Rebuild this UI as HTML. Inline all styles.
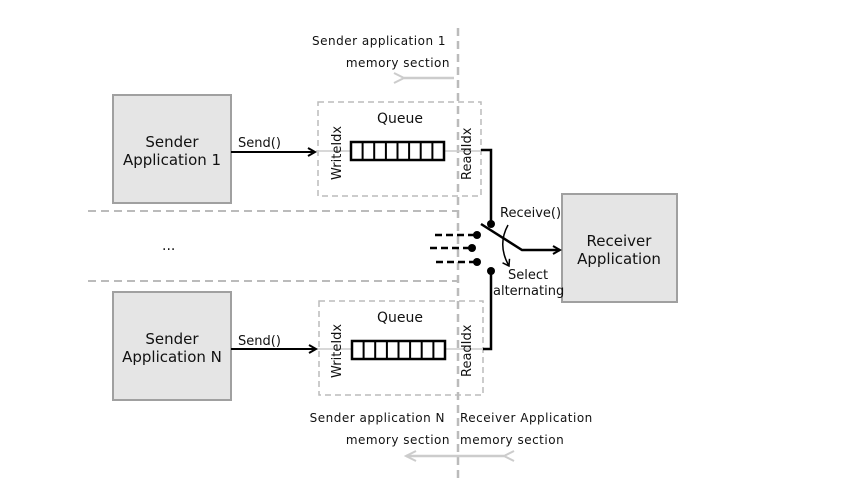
<!DOCTYPE html>
<html><head><style>
html,body{margin:0;padding:0;background:#fff;}
svg{display:block;}
text{font-family:"DejaVu Sans","Liberation Sans",sans-serif;fill:#111;}
</style></head><body>
<svg width="867" height="481" viewBox="0 0 867 481" xmlns="http://www.w3.org/2000/svg">
<defs>
<marker id="ah" markerWidth="10" markerHeight="10" refX="8" refY="5" orient="auto" markerUnits="userSpaceOnUse"><path d="M1,1 L8,5 L1,9" fill="none" stroke="#000" stroke-width="2"/></marker>
<marker id="ahs" markerWidth="10" markerHeight="10" refX="7" refY="5" orient="auto" markerUnits="userSpaceOnUse"><path d="M1,1 L7,5 L1,9" fill="none" stroke="#000" stroke-width="1.5"/></marker>
<marker id="ga" markerWidth="14" markerHeight="12" refX="2" refY="6" orient="auto" markerUnits="userSpaceOnUse"><path d="M12,1 L2,6 L12,11" fill="none" stroke="#ccc" stroke-width="2"/></marker>
</defs>
<!-- dashed separators -->
<line x1="458" y1="28" x2="458" y2="481" stroke="#bbb" stroke-width="2.5" stroke-dasharray="8,5"/>
<line x1="88" y1="211" x2="458" y2="211" stroke="#bbb" stroke-width="2" stroke-dasharray="8,5"/>
<line x1="88" y1="281" x2="458" y2="281" stroke="#bbb" stroke-width="2" stroke-dasharray="8,5"/>
<!-- boxes -->
<rect x="113" y="95" width="118" height="108" fill="#e5e5e5" stroke="#a0a0a0" stroke-width="2"/>
<rect x="113" y="292" width="118" height="108" fill="#e5e5e5" stroke="#a0a0a0" stroke-width="2"/>
<rect x="562" y="194" width="115" height="108" fill="#e5e5e5" stroke="#a0a0a0" stroke-width="2"/>
<text x="172" y="147" font-size="15" text-anchor="middle">Sender</text>
<text x="172" y="165" font-size="15" text-anchor="middle">Application 1</text>
<text x="172" y="344" font-size="15" text-anchor="middle">Sender</text>
<text x="172" y="362" font-size="15" text-anchor="middle">Application N</text>
<text x="619" y="246" font-size="15" text-anchor="middle">Receiver</text>
<text x="619" y="264" font-size="15" text-anchor="middle">Application</text>
<!-- queue boxes -->
<rect x="318" y="102" width="163" height="94" fill="none" stroke="#bbb" stroke-width="1.5" stroke-dasharray="6,4"/>
<rect x="319" y="301" width="164" height="94" fill="none" stroke="#bbb" stroke-width="1.5" stroke-dasharray="6,4"/>
<line x1="316" y1="151" x2="481" y2="151" stroke="#ccc" stroke-width="1.5"/>
<line x1="316" y1="349" x2="483" y2="349" stroke="#ccc" stroke-width="1.5"/>
<g stroke="#000" stroke-width="2.5" fill="#fff">
<rect x="351" y="142" width="93" height="18"/>
<rect x="352" y="341" width="93" height="18"/>
</g>
<g stroke="#000" stroke-width="2">
<line x1="362.6" y1="142" x2="362.6" y2="160"/><line x1="374.2" y1="142" x2="374.2" y2="160"/><line x1="385.9" y1="142" x2="385.9" y2="160"/><line x1="397.5" y1="142" x2="397.5" y2="160"/><line x1="409.1" y1="142" x2="409.1" y2="160"/><line x1="420.7" y1="142" x2="420.7" y2="160"/><line x1="432.4" y1="142" x2="432.4" y2="160"/>
<line x1="363.6" y1="341" x2="363.6" y2="359"/><line x1="375.2" y1="341" x2="375.2" y2="359"/><line x1="386.9" y1="341" x2="386.9" y2="359"/><line x1="398.5" y1="341" x2="398.5" y2="359"/><line x1="410.1" y1="341" x2="410.1" y2="359"/><line x1="421.7" y1="341" x2="421.7" y2="359"/><line x1="433.4" y1="341" x2="433.4" y2="359"/>
</g>
<text x="400" y="123" font-size="14" text-anchor="middle">Queue</text>
<text x="400" y="322" font-size="14" text-anchor="middle">Queue</text>
<text transform="translate(341,180) rotate(-90)" font-size="13">WriteIdx</text>
<text transform="translate(341,378) rotate(-90)" font-size="13">WriteIdx</text>
<text transform="translate(471,180) rotate(-90)" font-size="13">ReadIdx</text>
<text transform="translate(471,377) rotate(-90)" font-size="13">ReadIdx</text>
<!-- send arrows -->
<line x1="231" y1="152" x2="315" y2="152" stroke="#000" stroke-width="2" marker-end="url(#ah)"/>
<line x1="231" y1="349" x2="316" y2="349" stroke="#000" stroke-width="2" marker-end="url(#ah)"/>
<text x="238" y="147" font-size="13">Send()</text>
<text x="238" y="345" font-size="13">Send()</text>
<!-- readidx lines -->
<polyline points="481,150 491,150 491,224" fill="none" stroke="#000" stroke-width="2.5"/>
<polyline points="483,349 491,349 491,272" fill="none" stroke="#000" stroke-width="2.5"/>
<circle cx="491" cy="224" r="4" fill="#000"/>
<circle cx="491" cy="271" r="4" fill="#000"/>
<!-- switch -->
<polyline points="481,224 522,250 560,250" fill="none" stroke="#000" stroke-width="2.5" marker-end="url(#ah)"/>
<g stroke="#000" stroke-width="2.5" stroke-dasharray="7,4">
<line x1="435" y1="235" x2="474" y2="235"/>
<line x1="430" y1="248" x2="469" y2="248"/>
<line x1="436" y1="262" x2="474" y2="262"/>
</g>
<circle cx="477" cy="235" r="4" fill="#000"/>
<circle cx="472" cy="248" r="4" fill="#000"/>
<circle cx="477" cy="262" r="4" fill="#000"/>
<path d="M508,225 Q497,245 509,266" fill="none" stroke="#000" stroke-width="1.5" marker-end="url(#ahs)"/>
<text x="500" y="217" font-size="13">Receive()</text>
<text x="508" y="279" font-size="13">Select</text>
<text x="493" y="295" font-size="13">alternating</text>
<text x="162" y="250" font-size="14">...</text>
<!-- section labels -->
<text x="446" y="45" font-size="12" text-anchor="end" letter-spacing="0.5">Sender application 1</text>
<text x="450" y="67" font-size="12" text-anchor="end" letter-spacing="0.5">memory section</text>
<line x1="454" y1="78" x2="404" y2="78" stroke="#ccc" stroke-width="2.5" marker-end="url(#ga)"/>
<text x="445" y="422" font-size="12" text-anchor="end" letter-spacing="0.5">Sender application N</text>
<text x="450" y="444" font-size="12" text-anchor="end" letter-spacing="0.5">memory section</text>
<text x="460" y="422" font-size="12" letter-spacing="0.5">Receiver Application</text>
<text x="460" y="444" font-size="12" letter-spacing="0.5">memory section</text>
<line x1="406" y1="456" x2="504" y2="456" stroke="#ccc" stroke-width="2.5" marker-start="url(#ga)" marker-end="url(#ga)"/>
</svg>
</body></html>
